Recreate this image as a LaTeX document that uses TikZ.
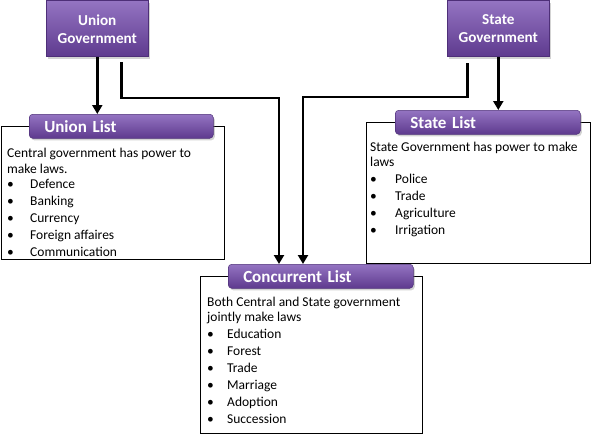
\documentclass[tikz,border=0pt]{standalone}
\usepackage{fontspec}
\setmainfont{Carlito}
\newfontfamily\titlefont{Carlito}[WordSpace=0.8]
\usetikzlibrary{arrows.meta,shadows,calc}
\definecolor{purpT}{HTML}{9474C2}
\definecolor{purpB}{HTML}{5E3A8E}
\definecolor{purpD}{HTML}{4E2F78}
\tikzset{
  govbox/.style={rectangle, top color=purpT, bottom color=purpB, draw=purpD,
    line width=0.6pt, text=white, align=center, anchor=north west,
    font=\bfseries\fontsize{15.2}{18}\selectfont,
    minimum width=102pt, minimum height=56pt,
    drop shadow={opacity=0.35, shadow xshift=2pt, shadow yshift=-2pt}},
  titlebar/.style={rectangle, rounded corners=3.5pt, top color=purpT, bottom color=purpB,
    draw=purpD, line width=0.5pt, text=white, align=left, anchor=north west,
    font=\titlefont\bfseries\fontsize{17}{20}\selectfont,
    inner xsep=15pt, inner ysep=0pt, minimum height=24pt,
    drop shadow={opacity=0.35, shadow xshift=1.5pt, shadow yshift=-2pt}},
  listbox/.style={rectangle, draw=black, line width=1.4pt, fill=white, anchor=north west},
  body/.style={font=\fontsize{13.5}{16}\selectfont, anchor=base west, inner sep=0pt},
  conn/.style={line width=2.5pt, line join=miter, draw=black},
  arr/.style={conn, -{Triangle[length=9pt,width=10pt]}}
}
\begin{document}
\begin{tikzpicture}[x=1pt,y=-1pt]
\useasboundingbox (0,0) rectangle (591,436);

% list boxes
\node[listbox, minimum width=223pt, minimum height=133pt] (ulbox) at (1,126) {};
\node[listbox, minimum width=224pt, minimum height=141pt] (slbox) at (366,122) {};
\node[listbox, minimum width=222pt, minimum height=157pt] (clbox) at (200,276) {};

% government boxes
\node[govbox] (ug) at (46,0.5) {Union\\Government};
\node[govbox] (sg) at (447,0.5) {State\\Government};

% title bars
\node[titlebar, minimum width=184pt, text width=154pt] (ul) at (29,114) {Union List};
\node[titlebar, minimum width=185pt, text width=155pt] (sl) at (395,110) {State List};
\node[titlebar, minimum width=185pt, text width=155pt] (cl) at (228,264) {Concurrent List};

% union list text
\node[body] (ut1) at (7,157) {Central government has power to};
\node[body] (ut2) at (7,173) {make laws.};
\foreach [count=\i] \t in {Defence,Banking,Currency,Foreign affaires,Communication}{
  \node[body] (ub\i) at (7,{188+17*(\i-1)}) {•};
  \node[body] (ui\i) at (30,{188+17*(\i-1)}) {\t};
}

% state list text
\node[body] (st1) at (370,151) {State Government has power to make};
\node[body] (st2) at (370,166) {laws};
\foreach [count=\i] \t in {Police,Trade,Agriculture,Irrigation}{
  \node[body] (sb\i) at (370,{183+17*(\i-1)}) {•};
  \node[body] (si\i) at (395,{183+17*(\i-1)}) {\t};
}

% concurrent list text
\node[body] (ct1) at (207,306) {Both Central and State government};
\node[body] (ct2) at (207,321) {jointly make laws};
\foreach [count=\i] \t in {Education,Forest,Trade,Marriage,Adoption,Succession}{
  \node[body] (cb\i) at (207,{338+17*(\i-1)}) {•};
  \node[body] (ci\i) at (227,{338+17*(\i-1)}) {\t};
}

% connectors
\coordinate (uStart) at ($(ug.south)+(24,5)$);
\coordinate (sStart) at ($(sg.south)+(-31,6)$);
\coordinate (cin1) at ($(cl.north west)+(51,0)$);
\coordinate (cin2) at ($(cl.north west)+(75,0)$);

\draw[arr] (ug.south) -- (ug.south |- ul.north);
\draw[arr] (sg.south) -- (sg.south |- sl.north);
\draw[arr] (uStart) -- (uStart |- 0,98) -| (cin1);
\draw[arr] (sStart) -- (sStart |- 0,97) -| (cin2);
\end{tikzpicture}
\end{document}
